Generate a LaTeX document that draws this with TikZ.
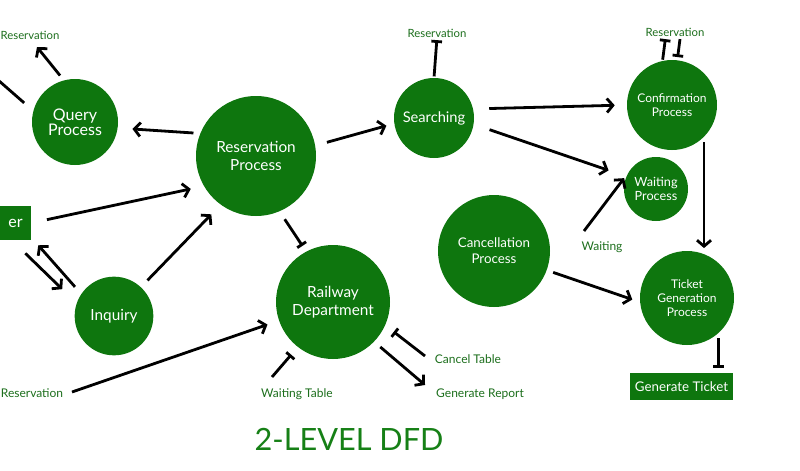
\documentclass[tikz,border=0pt]{standalone}
\usepackage{fontspec}
\setmainfont{Lato}
\usetikzlibrary{arrows.meta}
\definecolor{dfdgreen}{RGB}{14,118,14}
\definecolor{lblgreen}{RGB}{28,110,28}
\definecolor{titlegreen}{RGB}{22,128,22}
\tikzset{
  proc/.style={circle, fill=dfdgreen, draw=none, inner sep=0pt, text=white, align=center},
  ent/.style={rectangle, fill=dfdgreen, draw=none, inner sep=0pt, text=white},
  lbl/.style={text=lblgreen, inner sep=0pt, font=\fontsize{9}{10}\selectfont},
  flow/.style={line width=2.1pt, -{Straight Barb[length=4.5pt,width=10.5pt]}},
  barflow/.style={line width=2.1pt, -{Bar[width=8pt]}},
  plain/.style={line width=2.1pt},
}
\begin{document}
\begin{tikzpicture}[x=0.75pt,y=-0.75pt]
\useasboundingbox (0,0) rectangle (800,471);
% processes
\node[proc, minimum size=64.5pt, font=\fontsize{12}{13}\selectfont] (query) at (75,122) {Query\\[-2pt]Process};
\node[proc, minimum size=90pt, font=\fontsize{11.5}{13.5}\selectfont] (res) at (256,156) {Reservation\\Process};
\node[proc, minimum size=60pt, font=\fontsize{11}{12}\selectfont] (search) at (434,118) {Searching};
\node[proc, minimum size=67.5pt, font=\fontsize{9}{10.5}\selectfont] (confirm) at (672,105) {Confirmation\\Process};
\node[proc, minimum size=48pt, font=\fontsize{9.5}{10.5}\selectfont] (waitp) at (656,189) {Waiting\\Process};
\node[proc, minimum size=70.5pt, font=\fontsize{9}{10.5}\selectfont] (ticket) at (687,298) {Ticket\\Generation\\Process};
\node[proc, minimum size=84pt, font=\fontsize{10}{12}\selectfont] (cancel) at (494,251) {Cancellation\\Process};
\node[proc, minimum size=85.5pt, font=\fontsize{11.5}{13}\selectfont] (rail) at (333,302) {Railway\\Department};
\node[proc, minimum size=59pt, font=\fontsize{11.5}{13}\selectfont] (inq) at (114,316) {Inquiry};
% entities
\node[ent, minimum width=23.25pt, minimum height=25.5pt, font=\fontsize{12}{14}\selectfont] (user) at (15.5,223) {er};
\node[ent, minimum width=77pt, minimum height=20pt, font=\fontsize{10}{12}\selectfont] (gt) at (681.5,386.5) {Generate Ticket};
% labels
\node[lbl, font=\fontsize{8.5}{10}\selectfont] (lresA) at (30,35) {Reservation};
\node[lbl] (lresB) at (32,393) {Reservation};
\node[lbl, font=\fontsize{8.5}{10}\selectfont] (lresC) at (437,33) {Reservation};
\node[lbl, font=\fontsize{8.5}{10}\selectfont] (lresD) at (675,32) {Reservation};
\node[lbl] (lwt) at (297,394) {Waiting Table};
\node[lbl] (lct) at (468,359) {Cancel Table};
\node[lbl] (lgr) at (480,394) {Generate Report};
\node[lbl] (lwait) at (602,247) {Waiting};
\node[text=titlegreen, inner sep=0pt, font=\fontsize{23}{26}\selectfont] (title) at (349,439) {2-LEVEL DFD};
% free-end coordinates
\coordinate (cA) at (37,47);
\coordinate (cL) at (-2,80);
\coordinate (cB) at (72,392);
\coordinate (cWT) at (272,377);
\coordinate (cCT) at (425,356);
\coordinate (cGR) at (425,385);
\coordinate (cW) at (584,231);
% connectors
\draw[flow, shorten <=5pt, shorten >=11pt] (res.158) -- (query.-8);
\draw[flow, shorten <=4.5pt] (query.105) -- (cA);
\draw[plain, shorten >=9pt] (cL) -- (query.165);
\draw[flow, shorten <=12pt, shorten >=10pt] (user.east) -- (res.210);
\draw[flow, shorten <=7pt, shorten >=10pt] (inq.47) -- (res.234);
\draw[flow, shorten <=7pt] (inq.146) -- ([shift={(7,5)}]user.south east);
\draw[flow, shorten >=15pt] ([shift={(-6,13)}]user.south east) -- (inq.161);
\draw[flow, shorten >=9pt] (cB) -- (rail.199);
\draw[barflow, shorten <=7pt, shorten >=5pt] (res.-67) -- (rail.118);
\draw[barflow, shorten >=7.5pt] (cWT) -- (rail.232);
\draw[barflow, shorten >=8pt] (cCT) -- (rail.-24);
\draw[flow, shorten <=6pt] (rail.-44) -- (cGR);
\draw[flow, shorten <=9pt, shorten >=6pt] (res.10) -- (search.188);
\draw[barflow, shorten <=1pt, shorten >=2pt] (search.north) -- (lresC.south);
\draw[flow, shorten <=12pt, shorten >=9pt] (search.13) -- (confirm.west);
\draw[flow, shorten <=12.5pt, shorten >=14pt] (search.-9) -- (waitp.157);
\draw[barflow, shorten >=2pt] ([xshift=-7]confirm.north) -- ([xshift=-7]lresD.south);
\draw[barflow, shorten <=2pt, shorten >=2pt] ([xshift=4]lresD.south) -- ([xshift=4]confirm.north);
\draw[flow, shorten <=4pt, shorten >=2pt] (confirm.-45) -- (confirm.-45 |- ticket.north);
\draw[flow, shorten >=4.5pt] (cW) -- (waitp.151);
\draw[flow, shorten <=5pt, shorten >=6pt] (cancel.-20) -- (ticket.185);
\draw[barflow, shorten <=4pt, shorten >=4pt] (ticket.-48) -- (ticket.-48 |- gt.north);
\end{tikzpicture}
\end{document}
